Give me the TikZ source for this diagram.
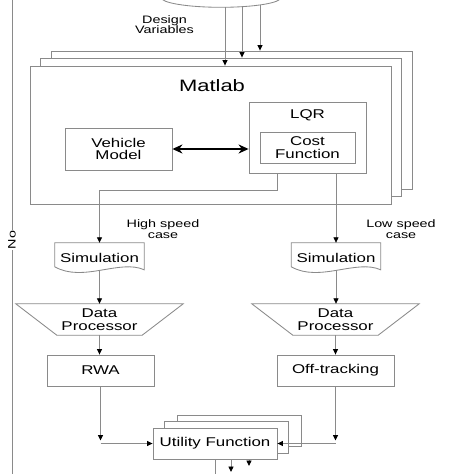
\documentclass[tikz,border=0pt]{standalone}
\usepackage{fontspec}
\setmainfont[FakeStretch=1.33]{Liberation Sans}
\usetikzlibrary{arrows.meta,calc,shapes.geometric}
\definecolor{ln}{HTML}{8A8A8A}
\begin{document}
\begin{tikzpicture}[x=1pt,y=-1pt,
  lab/.style={font=\fontsize{12.7}{12.4}\selectfont, align=center, inner sep=0pt},
  small/.style={font=\fontsize{10.8}{10.5}\selectfont, align=center, inner sep=0pt},
  box/.style={draw=ln, line width=0.85pt, fill=white, inner sep=0pt, lab},
  plain/.style={draw=ln, line width=0.85pt},
  arr/.style={draw=ln, line width=0.85pt, -{Triangle[color=black,length=5.5pt,width=5pt]}},
  dbl/.style={draw=black, line width=2.2pt, {Stealth[length=10pt,width=9pt]}-{Stealth[length=10pt,width=9pt]}}]
\useasboundingbox (0,0) rectangle (474,474);
\clip (0,0) rectangle (474,474);

% left "No" loop line
\coordinate (nt) at (12,0);
\coordinate (nb) at (12,474);
\draw[plain] (nt) -- (nb);
\node[small, rotate=90, fill=white, inner sep=1pt] (no) at (12,240) {No};

% top ellipse (cut off)
\node[draw=ln, line width=0.85pt, ellipse, minimum width=120pt, minimum height=19.6pt, inner sep=0pt, outer sep=0pt] (opt) at (221,-2.5) {};
\node[small] (dv) at (164.5,24.5) {Design\\Variables};

% Matlab stacked boxes
\node[box, minimum width=361pt, minimum height=138pt] (mb3) at (231.5,120) {};
\node[box, minimum width=361pt, minimum height=138pt] (mb2) at (220.5,127) {};
\node[box, minimum width=361pt, minimum height=138pt] (mb1) at (210.5,135) {};
\node[font=\fontsize{16.5}{18}\selectfont, inner sep=0pt] (matlab) at (212,86) {Matlab};

% design variable arrows
\coordinate (t1) at (225,7.3);
\coordinate (t2) at (242,6.7);
\coordinate (t3) at (260,5.0);
\draw[arr] (t1) -- (t1 |- mb1.north);
\draw[arr] (t2) -- (t2 |- mb2.north);
\draw[arr] (t3) -- (t3 |- mb3.north);

% inner boxes
\node[box, minimum width=107pt, minimum height=42pt] (vm) at (118.5,149) {Vehicle\\Model};
\node[box, minimum width=117pt, minimum height=71pt] (lqr) at (307.5,137.5) {};
\node[lab] (lqrt) at (307.5,115) {LQR};
\node[box, minimum width=95pt, minimum height=31pt] (cf) at (307.5,147.5) {Cost\\Function};
\draw[dbl] (vm.east) -- (vm.east -| lqr.west);

% branches
\coordinate (b1) at (277,173);
\coordinate (b2) at (336,173);
\coordinate (b1m) at (277,190);
\node[small] (hs) at (163,229) {High speed\\case};
\node[small] (ls) at (401,229) {Low speed\\case};

% simulation shapes
\node[lab, minimum width=89pt, minimum height=30pt] (s1) at (99.5,258) {Simulation};
\node[lab, minimum width=89pt, minimum height=30pt] (s2) at (336,258) {Simulation};
\foreach \s in {s1,s2}{
  \draw[plain] (\s.north west) -- (\s.north east) -- ($(\s.north east)+(0,27)$)
    .. controls +(-24,-11) and +(28,16) .. ($(\s.north west)+(0,24)$) -- cycle;
}
\draw[arr] (b1) -- (b1m) -- (b1m -| s1.north) -- (s1.north);
\draw[arr] (b2) -- (b2 |- s2.north);

% data processors
\node[lab, minimum width=167pt, minimum height=31pt] (dp1) at (99.5,319.5) {Data\\Processor};
\node[lab, minimum width=167pt, minimum height=31pt] (dp2) at (335.5,319.5) {Data\\Processor};
\foreach \d in {dp1,dp2}{
  \draw[plain] (\d.north west) -- (\d.north east) -- ($(\d.south east)+(-41,0)$) -- ($(\d.south west)+(41,0)$) -- cycle;
}
\draw[arr] ($(s1.north)+(0,27)$) -- (s1.north |- dp1.north);
\draw[arr] ($(s2.north)+(0,27)$) -- (s2.north |- dp2.north);

% metrics
\node[box, minimum width=107pt, minimum height=31pt] (rwa) at (100.5,370.5) {RWA};
\node[box, minimum width=117pt, minimum height=31pt] (ot) at (335.5,370.5) {Off-tracking};
\draw[arr] (dp1.south) -- (dp1.south |- rwa.north);
\draw[arr] (dp2.south) -- (dp2.south |- ot.north);

% utility function stack
\node[box, minimum width=124pt, minimum height=31pt] (uf3) at (239,430.5) {};
\node[box, minimum width=124pt, minimum height=32pt] (uf2) at (226,437) {};
\node[box, minimum width=124pt, minimum height=31pt] (uf) at (215,443.5) {Utility Function};

\coordinate (c1) at (rwa.south |- uf.west);
\coordinate (c2) at (ot.south |- uf.east);
\draw[arr] (rwa.south) -- ($(c1)+(0,-3)$);
\draw[arr] (c1) -- (uf.west);
\draw[arr] (ot.south) -- ($(c2)+(0,-3)$);
\draw[arr] (c2) -- (uf.east);

% outputs
\coordinate (o1) at (215,474);
\coordinate (o2) at (231,472);
\coordinate (o3) at (249,466);
\draw[plain] (o1 |- uf.south) -- (o1);
\draw[arr] (o2 |- uf.south) -- (o2);
\draw[arr] (o3 |- uf.south) -- (o3);
\end{tikzpicture}
\end{document}
